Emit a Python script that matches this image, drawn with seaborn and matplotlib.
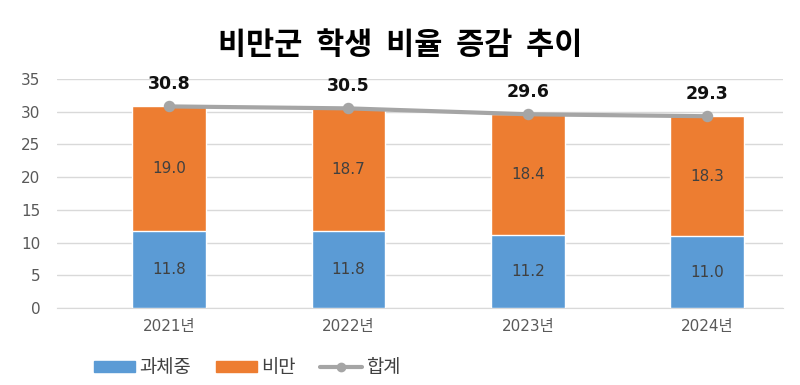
import numpy as np
import pandas as pd
import matplotlib
matplotlib.use("Agg")
import matplotlib.pyplot as plt
import seaborn as sns
from matplotlib.patches import Patch
from matplotlib.lines import Line2D

# data
years = ['2021년', '2022년', '2023년', '2024년']
overweight = [11.8, 11.8, 11.2, 11.0]
obese = [19.0, 18.7, 18.4, 18.3]
total = [30.8, 30.5, 29.6, 29.3]

blue = '#5B9BD5'
orange = '#ED7D31'
grey = '#A5A5A5'

sns.set_style("white")
plt.rcParams['font.family'] = ['DejaVu Sans', 'Noto Sans CJK KR']

df = pd.DataFrame({'year': years, 'overweight': overweight,
                   'obese': obese, 'total': total})

fig = plt.figure(figsize=(8, 3.85), dpi=100)
ax = fig.add_axes([0.071, 0.2, 0.908, 0.595])

# stacked bars: orange bar is the full stack, blue drawn over it
sns.barplot(data=df, x='year', y='total', color=orange, width=0.41,
            saturation=1, ax=ax, zorder=2)
sns.barplot(data=df, x='year', y='overweight', color=blue, width=0.41,
            saturation=1, ax=ax, zorder=3)
sns.pointplot(data=df, x='year', y='total', color=grey, markers='o',
              linestyles='-', ax=ax, zorder=4, markersize=6, linewidth=3)

for i, row in df.iterrows():
    ax.text(i, row['overweight'] / 2, f"{row['overweight']:.1f}",
            ha='center', va='center', fontsize=11, color='#404040')
    ax.text(i, row['overweight'] + row['obese'] / 2, f"{row['obese']:.1f}",
            ha='center', va='center', fontsize=11, color='#404040')
    ax.text(i, row['total'] + 2.0, f"{row['total']:.1f}",
            ha='center', va='bottom', fontsize=12.5, fontweight='bold',
            color='#111111')

ax.set_ylim(0, 35)
ax.set_yticks(np.arange(0, 36, 5))
ax.set_xlim(-0.625, 3.424)
ax.yaxis.grid(True, color='#D9D9D9', linewidth=1)
ax.set_axisbelow(True)
for s in ax.spines.values():
    s.set_visible(False)
ax.spines['bottom'].set_visible(True)
ax.spines['bottom'].set_color('#D9D9D9')
ax.set_xlabel('')
ax.set_ylabel('')
ax.tick_params(axis='both', length=0, labelsize=11, labelcolor='#595959',
               pad=8)
ax.tick_params(axis='y', pad=12)

fig.suptitle('비만군  학생  비율  증감  추이', fontsize=22, fontweight='heavy',
             y=0.925, color='black', family=['Noto Sans CJK KR'])

handles = [Patch(color=blue), Patch(color=orange),
           Line2D([], [], color=grey, linewidth=3, marker='o', markersize=6)]
fig.legend(handles, ['과체중', '비만', '합계'], loc='center',
           bbox_to_anchor=(0.309, 0.045), ncol=3, frameon=False,
           fontsize=13.5, handlelength=2.2, handleheight=0.45,
           handletextpad=0.25, columnspacing=1.3, labelcolor='#404040')

fig.savefig('out.png', dpi=100)
